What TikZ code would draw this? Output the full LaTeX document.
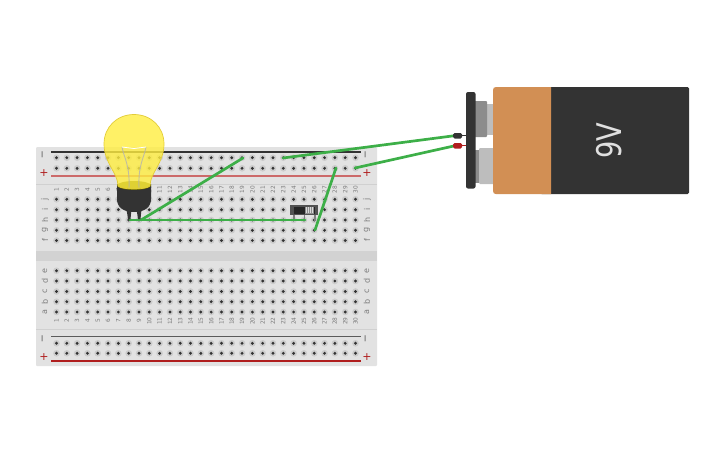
\documentclass[tikz,border=0pt]{standalone}
\usepackage[svgnames]{xcolor}
\usepackage{fontspec}
\setmainfont{DejaVu Sans}
\usepackage{tikz}
\usetikzlibrary{positioning, calc}

\definecolor{boardgray}{HTML}{E2E2E2}
\definecolor{gapgray}{HTML}{D2D2D2}
\definecolor{linegray}{HTML}{D0D0D0}
\definecolor{darkpart}{HTML}{333333}
\definecolor{wiregreen}{HTML}{3DAF48}
\definecolor{railred}{HTML}{CC6A6A}
\definecolor{capred}{HTML}{B01E1E}
\definecolor{battorange}{HTML}{D28F54}
\definecolor{termdark}{HTML}{8C8C8C}
\definecolor{termlight}{HTML}{BDBDBD}
\definecolor{labelgray}{HTML}{7C7C7C}
\definecolor{lampyellow}{HTML}{FFEE40}
\definecolor{lampedge}{HTML}{E2CC38}

\tikzset{
    hole/.style={circle, fill=black!80, inner sep=0pt, minimum size=3.2pt},
    halo/.style={circle, fill=black!20, inner sep=0pt, minimum size=6.6pt},
    wire/.style={wiregreen, line width=2.7pt, line cap=round},
    railline/.style={line width=1.2pt},
    boardtext/.style={labelgray, font=\fontsize{5.8}{6}\selectfont, rotate=90, inner sep=0pt},
    railmark/.style={font=\fontsize{11}{11}\selectfont, inner sep=0pt},
    railminus/.style={labelgray, font=\fontsize{15}{15}\selectfont, rotate=90, inner sep=0pt}
}

\def\tikboard{%
    \def\raster{10.31}

    % board
    \fill[boardgray, rounded corners=1pt] (36,147) rectangle (377,366);
    \fill[gapgray] (36,251) rectangle (377,261);
    \draw[linegray, line width=0.8pt] (36,184) -- (377,184);
    \draw[linegray, line width=0.8pt] (36,329) -- (377,329);

    % rails
    \draw[darkpart, railline] (51,152) -- (361,152);
    \draw[railred, railline] (51,176) -- (361,176);
    \draw[darkpart!80, railline] (51,336.5) -- (361,336.5);
    \draw[capred, railline] (51,361) -- (361,361);

    % holes
    \foreach \y in {157.7,168.3,199.3,209.7,220,230.3,240.5,270.7,281,291.5,301.7,312,343.3,353.3}
    {
        \foreach \x in {0,...,29}
        {
            \node[halo] (h\x-\y) at (56.5 + \x * \raster, \y) {};
            \node[hole] (p\x-\y) at (56.5 + \x * \raster, \y) {};
        }
    }

    % column numbers
    \foreach \x in {1,...,30}
    {
        \node[boardtext] (nt\x) at (46.2 + \x * \raster, 189.5) {\x};
        \node[boardtext] (nb\x) at (46.2 + \x * \raster, 321) {\x};
    }

    % row letters
    \foreach \y/\l in {199.3/j,209.7/i,220/h,230.3/g,240.5/f,270.7/e,281/d,291.5/c,301.7/b,312/a}
    {
        \node[boardtext, font=\fontsize{8}{8}\selectfont] (ll\l) at (45, \y) {\l};
        \node[boardtext, font=\fontsize{8}{8}\selectfont] (lr\l) at (367, \y) {\l};
    }

    % signs
    \node[railminus] (minustl) at (44,155) {–};
    \node[railminus] (minustr) at (367,155) {–};
    \node[railminus] (minusbl) at (44,339) {–};
    \node[railminus] (minusbr) at (367,339) {–};
    \node[railmark, capred] (plustl) at (44,173) {+};
    \node[railmark, capred] (plustr) at (367,173) {+};
    \node[railmark, capred] (plusbl) at (44,357) {+};
    \node[railmark, capred] (plusbr) at (367,357) {+};
}

\begin{document}
\begin{tikzpicture}[x=1pt, y=-1pt]
    \useasboundingbox (0,0) rectangle (725,453);
    \tikboard

    \coordinate (lampa) at (130,220);
    \coordinate (lampb) at (141,220);
    \coordinate (swa) at (305,220);
    \coordinate (swb) at (315,230);
    \coordinate (railneg) at (243,158);
    \coordinate (railnegb) at (283,158);
    \coordinate (railpos) at (336,168);
    \coordinate (railposb) at (355,168);
    \coordinate (capneg) at (456,135.5);
    \coordinate (cappos) at (456,145.5);

    % switch
    \foreach \x in {294,304.5,315}
    {
        \draw[gray, line width=1.3pt] (\x,214) -- (\x,221);
    }
    \fill[darkpart!85] (290,205) rectangle (318,215);
    \fill[black!85] (294,206.5) rectangle (314.5,213.5);
    \fill[black!45] (305,206.5) rectangle (314,213.5);
    \foreach \x in {306.5,308.5,310.5,312.5}
    {
        \draw[white!85!black, line width=0.6pt] (\x,207) -- (\x,213);
    }

    % wires on the board
    \draw[wire] (lampa) -- (swa);
    \draw[wire] (lampb) -- (railneg);
    \draw[wire] (swb) -- (railpos);
    \draw[wire] (railnegb) -- (capneg);
    \draw[wire] (railposb) -- (cappos);

    % bulb
    \fill[darkpart] (126.5,209) -- (131.5,209) -- (130.5,219) -- (128,219) -- cycle;
    \fill[darkpart] (136.5,209) -- (141.5,209) -- (140.5,219) -- (138,219) -- cycle;
    \fill[darkpart] (117,184) -- (151,184) -- (151,199)
        .. controls (151,207) and (145,212) .. (134,212)
        .. controls (123,212) and (117,207) .. (117,199) -- cycle;
    \fill[Olive!75!black] (134,185.5) ellipse (17 and 4.5);
    \draw[lampedge, fill=lampyellow, fill opacity=0.8, line width=0.7pt]
        (118,186) .. controls (118,173) and (104,163) .. (104,144)
        .. controls (104,127) and (117,114.5) .. (134,114.5)
        .. controls (151,114.5) and (164,127) .. (164,144)
        .. controls (164,163) and (150,173) .. (150,186)
        .. controls (146,190) and (122,190) .. (118,186) -- cycle;
    \draw[black!30, line width=0.9pt, opacity=0.8] (122,147)
        .. controls (124,158) and (130,165) .. (129,188);
    \draw[black!30, line width=0.9pt, opacity=0.8] (146,147)
        .. controls (144,158) and (138,165) .. (139,188);
    \draw[white, line width=0.8pt] (122,147) -- (134,148.5) -- (146,147);

    % battery
    \fill[termlight] (487,104) rectangle (494,135);
    \fill[termdark, rounded corners=1pt] (474,101) rectangle (487,137);
    \fill[termdark] (474,150) rectangle (480,183);
    \fill[termlight, rounded corners=1pt] (479,148) rectangle (494,184);
    \fill[darkpart, rounded corners=2pt] (466,92) rectangle (475.5,188.5);
    \fill[darkpart, rounded corners=1.5pt] (540,87) rectangle (689,194);
    \fill[battorange] (496,87) -- (551,87) -- (551,194) -- (496,194)
        .. controls (494,194) and (493,193) .. (493,191) -- (493,90)
        .. controls (493,88) and (494,87) .. (496,87) -- cycle;
    \node[rotate=90, text=white!88!black, font=\fontsize{34}{34}\selectfont, inner sep=0pt] (voltage) at (609.5,140.5) {\scalebox{0.8}[1]{9V}};

    % clip leads
    \draw[darkpart, line width=1.2pt] (capneg) -- (466,135.5);
    \draw[capred, line width=1.2pt] (cappos) -- (466,145.5);
    \fill[darkpart, rounded corners=1.5pt] (453,133) rectangle (462,138.5);
    \fill[capred, rounded corners=1.5pt] (453,143) rectangle (462,148.5);
\end{tikzpicture}
\end{document}
